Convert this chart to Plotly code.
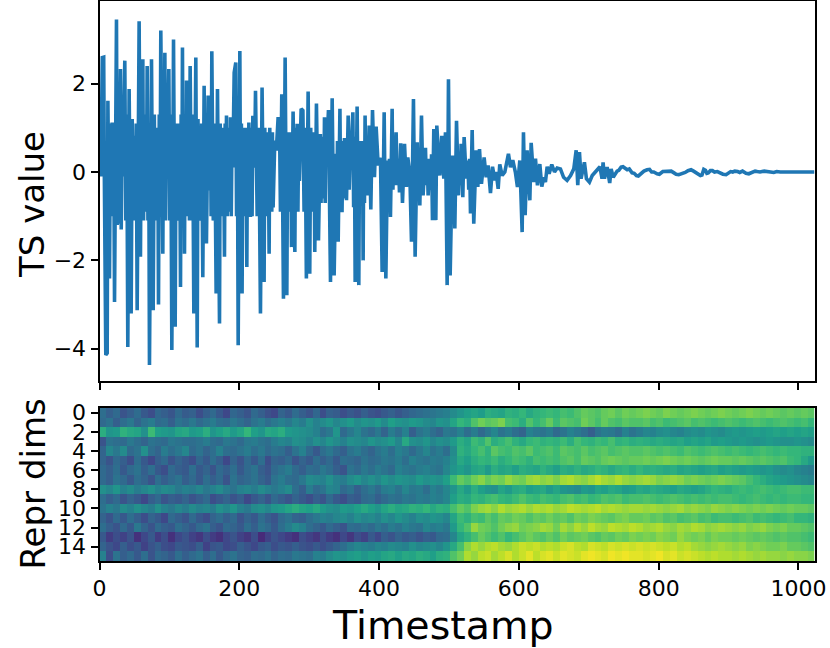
import plotly.graph_objects as go

# Time series, read peak by peak from the picture
peak_timestamps = [0,2,4,6,7,9,11,12,14.3,18.1,21.5,24.3,27.7,30,33.4,36.2,40.5,42.4,45.3,50,53.9,56.7,58.6,62,65,68.2,71.5,74.4,76.8,81.5,84.4,87.7,90.6,93.5,96.8,99.2,103.5,105.9,108.3,112,115.9,118.7,121.6,124.5,126.8,129.7,135,137.8,139.8,143,147.8,149.7,153,155.4,157.8,160.7,166.9,168.8,171.7,174.6,178.8,181.7,184.6,187.4,190.8,192.7,195,198.4,200.8,204,207.9,210.8,213.7,216,219.4,221.8,223.2,230.3,232.6,235.5,238.4,242.7,245.5,248.4,250.8,253,255.6,258,260.8,263.2,265.6,268,271.8,274.7,277,279.5,282.8,286,288.5,291,296,298.5,300.8,305,308,310.4,313.3,316,319,321.9,324.8,327.6,330.5,332.9,335.7,338.6,341.5,344,347,350.5,353.4,355.8,360,362.5,365.8,368.6,371,374.4,377.2,380,383.4,385.8,388.2,390.6,393.4,395.8,398.7,402,404.4,407.3,409.7,412,416.3,418.7,422,424.4,429.2,431,433.5,436.4,439.2,441.1,444,446.4,449.2,451.6,454.5,458.3,460.7,463,466.4,470.2,472.6,476.4,478.3,481.2,482.6,486.9,489.8,492.6,495,497.4,499.3,501.7,505,508.4,510.8,513.6,517.4,519.8,521.7,524.6,527,530.8,533.2,535.5,538.9,541.3,543.7,546.5,550.3,553.2,556,559.4,562.3,565.6,567.5,570.4,572.7,576.1,579.9,585.1,588,591.3,595,598,601.4,604.7,606.6,609,611.8,615.7,617.6,621.4,623.8,626.6,630,632.8,635.7,638,640.5,643.3,647.1,651,654.8,659.5,664,669,674,678.6,682,684.3,686.7,689,693.8,696.7,701,705,710.5,716,719,720.5,722.5,726.3,730,732,735,740.6,746.3,755,762,768.2,775,783.5,790,797.8,806,814.5,822,828.8,838,846.4,853,859.8,864.6,869,874,884,896.5,903,913,920,929,941,951,964.7,974,993,1012,1023]
peak_values = [0.49,-0.1,2.59,2.6,-0.2,-4.14,-4.1,1.61,-2.41,1.12,-2.94,3.45,-1.17,2.33,-0.1,2.52,-3.96,1.88,-3.2,0.82,-3.13,3.41,-1.92,2.55,-0.27,2.4,-4.37,2.55,-3.13,0.9,-3.0,3.2,-1.85,2.7,-0.08,2.33,-4.03,3.0,-3.5,0.37,-2.6,2.82,-1.85,2.07,-0.27,2.4,-3.2,2.59,-3.97,0.64,-2.38,1.95,-1.62,1.73,-0.42,2.73,-2.75,1.88,-3.43,0.41,-1.92,1.28,-0.76,1.24,0.1,2.25,2.48,-3.92,2.74,-2.75,0.07,-2.15,1.12,-1.02,1.27,0.1,1.84,-3.2,1.91,-2.49,0.18,-1.85,0.64,-0.8,0.71,0.49,1.24,0.45,1.76,-2.87,2.59,-2.79,0.3,-1.7,1.37,-1.81,1.09,-0.2,1.43,1.39,-2.41,1.82,-2.3,0.49,-1.81,1.55,-1.55,0.86,0.0,1.24,0.37,1.4,-2.49,1.67,-2.34,0.41,-1.58,1.43,-0.91,0.77,-0.64,1.28,0.49,1.35,-2.49,1.48,-2.56,0.47,-2.0,1.28,-0.53,1.05,-0.85,1.4,-0.12,1.03,0.15,0.32,-2.26,1.35,-2.41,0.26,-1.02,1.43,-0.3,0.9,-0.46,0.65,-0.7,0.64,-0.34,0.33,-0.04,-1.58,1.65,-1.92,0.67,-0.76,1.28,-0.53,0.55,-0.53,0.3,-1.09,0.97,-1.09,1.05,-0.08,0.82,-0.15,0.9,-2.56,2.1,-2.34,0.37,-1.28,1.16,-0.53,0.64,-0.57,0.79,-0.15,0.26,-0.94,0.95,-1.17,0.49,-0.34,0.52,-0.27,0.33,-0.12,0.15,-0.48,0.12,-0.19,0.0,-0.38,0.17,-0.08,0.0,0.41,0.11,0.27,0.0,-0.34,0.26,-1.36,0.9,-0.98,0.49,-0.64,0.66,-0.23,0.3,-0.3,0.18,-0.33,-0.12,-0.23,0.12,-0.04,0.17,0.0,0.09,0.07,-0.12,-0.19,-0.08,0.07,0.49,-0.3,0.45,-0.15,0.22,-0.15,-0.23,-0.08,0.03,0.12,-0.15,0.22,-0.15,0.11,-0.25,0.07,-0.12,0.02,0.11,0.05,-0.02,-0.08,-0.02,0.05,0.0,-0.04,0.01,0.03,-0.02,-0.06,-0.01,0.05,-0.01,-0.08,0.06,-0.03,0.03,0.01,-0.06,0.01,0.01,0.02,-0.04,0.01,0.02,-0.01,0.0,0.0,0.0,0.0]

# Smaller swings between those peaks: the solid band around zero, and the ripple in the flat tail
swing_timestamps = [15.6,16.8,19.2,20.3,25.4,26.6,31.1,32.2,37.6,39,46.8,48.4,51.3,52.6,59.7,60.8,63,64,66,67.1,69.3,70.4,78.4,79.9,82.5,83.4,85.5,86.6,91.6,92.5,94.6,95.7,100.6,102,109.5,110.8,113.3,114.6,116.8,117.8,119.7,120.6,122.6,123.5,127.8,128.7,131.5,133.2,140.9,142,144.6,146.2,150.8,151.9,158.8,159.7,162.8,164.8,172.7,173.6,176,177.4,179.8,180.7,182.7,183.6,185.5,186.5,188.5,189.7,196.1,197.3,201.9,203,205.3,206.6,208.9,209.8,211.8,212.7,217.1,218.3,225.6,228,236.5,237.4,239.8,241.3,243.6,244.6,246.5,247.4,258.9,259.9,269.3,270.5,272.8,273.7,280.6,281.7,283.9,285,292.7,294.3,302.2,303.6,306,307,317,318,320,320.9,322.9,323.8,339.6,340.5,345,346,348.2,349.3,351.5,352.4,357.2,358.6,363.6,364.7,372.1,373.2,375.3,376.3,378.1,379.1,381.1,382.3,413.4,414.9,419.8,420.9,426,427.6,455.8,457,467.7,468.9,473.9,475.1,506.1,507.3,514.9,516.1,528.3,529.5,743,749,758,765,771,779,787,793,801,810,818,825,833,842,850,856,862,867,871,877,880,888,892,899,906,909,916,925,934,938,945,955,960,969,980,986,999,1005,1017]
swing_values = [1.1,-1.0,-1.0,1.0,-1.2,1.3,-1.3,1.1,-1.1,1.3,1.2,-1.1,-1.0,1.1,1.3,-1.0,-1.1,1.1,1.3,-0.9,-1.1,1.1,1.3,-1.1,-1.1,1.0,1.3,-1.0,1.2,-1.1,-1.1,1.3,-1.1,1.3,1.1,-1.0,-1.1,1.1,1.3,-1.0,-1.1,1.0,1.2,-1.0,1.3,-1.1,-1.1,1.3,1.2,-1.0,-1.1,1.1,-1.1,1.1,1.1,-1.0,-1.1,1.1,1.1,-1.0,-1.0,1.0,1.1,-1.0,-1.0,1.0,1.0,-0.9,-1.0,1.0,-1.0,1.1,-1.1,1.1,1.0,-1.0,-1.0,1.0,1.0,-1.0,1.0,-1.0,-1.0,1.0,1.0,-1.0,-0.9,0.9,1.0,-0.9,-0.9,0.9,-0.9,1.0,0.9,-0.9,-0.9,0.9,1.0,-0.9,-0.9,0.9,-0.9,1.0,1.0,-0.9,-0.9,0.9,-0.7,0.7,0.8,-0.6,-0.7,0.8,-0.7,0.7,-0.6,0.6,0.7,-0.6,-0.6,0.6,-0.4,0.4,-0.8,0.8,0.7,-0.7,-0.7,0.7,0.7,-0.7,-0.5,0.5,-0.4,0.3,-0.4,0.3,-0.3,0.3,-0.4,0.4,-0.3,0.3,-0.4,0.4,-0.4,0.3,0.3,-0.3,-0.4,0.3,0.04,0.12,0.07,-0.03,-0.09,0.02,0.06,0.0,-0.05,0.02,0.02,-0.05,-0.04,0.03,0.02,-0.02,-0.07,0.04,-0.02,0.03,0.0,-0.02,-0.05,-0.03,0.0,0.02,-0.01,-0.03,0.0,0.02,0.0,0.02,0.0,0.01,0.0,0.01,0.0,0.01,0.0]

ts_points = sorted(zip(peak_timestamps + swing_timestamps, peak_values + swing_values))
timestamps = [p[0] for p in ts_points]
ts_values = [p[1] for p in ts_points]

# Representation heatmap: one list per dimension, read in 104 columns along the time axis
heat_timestamps = [9.84 * c + 4.92 for c in range(104)]
dim_labels = list(range(16))
r0 = [36,30,34,26,30,35,28,24,33,30,27,34,29, 31,24,30,34,28,22,33,30,26,34,30,25,22, 32,28,35,30,26,33,24,31,29,24,28,25,30, 26,24,28,31,27,30,33,35,37,39,41,43,48, 52,56,58,55,62,60,58,64,62,66,60,64,66, 68,66,70,68,72,76,74,72,76,78,74,78,76, 78,80,78,76,80,78,76,78,80,78,76,78,80, 78,76,78,80,78,76,78,76,74,76,74,76,74]
r1 = [34,38,30,36,40,32,38,42,34,36,30,38,35, 40,34,38,42,36,34,40,36,32,38,42,36,40, 44,40,46,42,50,44,48,52,46,50,54,48,52, 50,54,48,56,52,50,54,52,48,46,52,50,58, 66,62,72,78,74,76,80,70,68,62,72,66,70, 76,68,74,72,70,78,74,70,76,72,70,74,72, 72,74,70,72,68,70,72,74,70,72,70,68,70, 72,70,68,70,72,70,68,70,72,70,68,70,66]
r2 = [62,52,54,64,60,58,50,68,56,54,52,58,60, 54,56,62,52,56,60,54,58,66,56,52,60,58, 62,54,52,50,48,44,36,40,52,34,40,46,38, 34,40,32,42,36,44,30,38,42,36,32,40,38, 44,36,42,34,40,46,38,42,36,32,44,40,38, 42,34,38,44,40,36,30,38,42,40,36,44,38, 42,46,44,48,50,46,44,48,50,48,52,50,48, 52,54,52,54,56,54,56,58,56,58,56,58,56]
r3 = [26,38,36,34,40,36,32,38,36,34,40,38,36, 36,38,42,36,34,40,38,34,40,42,38,36,42, 46,44,50,48,44,50,46,52,48,44,50,48,46, 52,48,50,54,46,60,50,48,52,46,50,48,54, 62,58,68,64,72,62,66,70,64,60,66,68,64, 66,64,68,62,70,66,64,68,66,70,64,66,62, 64,62,60,62,60,58,60,56,58,56,58,54,56, 54,52,54,52,50,52,54,52,50,50,52,50,48]
r4 = [32,46,40,48,34,38,50,36,32,42,36,40,46, 34,38,32,36,44,36,34,38,42,36,40,34,38, 36,30,38,44,34,28,36,40,34,30,38,42,36, 32,38,42,36,44,40,34,40,46,38,42,36,48, 64,60,66,70,64,74,70,68,72,70,74,68,70, 72,68,74,72,70,74,70,72,74,70,72,74,72, 72,74,72,70,72,70,68,72,70,68,70,72,70, 68,70,68,66,68,70,68,66,68,66,66,64,64]
r5 = [32,26,34,30,24,36,28,22,30,34,26,32,28, 24,33,28,36,30,22,32,26,34,28,36,24,32, 30,34,26,32,28,36,30,34,28,36,34,32,38, 34,36,40,38,42,36,44,40,38,42,40,44,50, 60,56,62,66,64,68,62,66,70,68,64,70,68, 70,68,72,74,70,76,74,72,76,78,76,74,76, 76,78,76,78,80,78,76,78,76,74,76,78,76, 76,74,76,74,72,74,72,70,72,68,66,60,54]
r6 = [34,30,36,28,34,38,30,36,28,24,34,30,28, 36,28,32,26,34,30,36,28,34,38,30,26,34, 38,42,34,30,36,34,40,36,30,26,38,34,40, 36,42,38,34,44,40,38,42,44,40,38,46,52, 56,52,58,60,54,62,58,60,56,62,60,58,64, 60,56,62,60,64,60,62,66,64,60,64,66,62, 66,62,64,62,60,62,58,60,58,56,58,60,56, 58,56,54,56,54,52,54,50,48,50,46,44,42]
r7 = [34,30,38,34,28,36,32,26,36,30,34,38,30, 34,28,36,30,34,26,38,32,34,38,32,28,38, 42,36,34,40,48,46,44,50,44,42,48,52,46, 50,46,52,48,52,50,48,54,50,52,50,56,68, 76,72,78,82,76,80,78,84,80,78,84,86,82, 84,80,86,88,84,82,86,90,86,84,88,84,82, 84,86,84,80,82,84,82,78,80,78,76,78,80, 78,76,74,70,66,62,58,56,54,52,50,48,46]
r8 = [50,46,52,44,48,42,46,50,44,48,46,40,44, 42,46,40,44,48,42,38,44,46,42,48,44,40, 44,48,36,30,42,34,38,46,44,34,38,30,36, 40,34,42,44,38,46,40,42,36,44,40,46,52, 60,54,62,56,52,50,58,54,60,62,56,58,60, 54,58,52,50,48,54,52,58,56,60,58,54,56, 60,58,62,60,58,56,60,58,56,58,62,66,64, 62,66,68,66,68,70,68,66,68,70,70,68,68]
r9 = [36,30,34,26,32,28,22,30,34,26,30,28,32, 26,30,34,24,28,32,26,30,22,28,32,26,34, 30,26,32,28,24,30,26,34,28,24,30,28,34, 36,30,34,38,36,40,38,42,40,44,42,46,56, 62,60,66,64,68,70,66,64,68,72,68,66,70, 68,66,70,72,68,70,66,68,72,70,72,68,70, 70,72,70,68,70,72,70,68,70,68,70,68,70, 70,68,66,68,70,68,66,68,66,68,68,66,66]
r10 = [38,44,40,48,44,50,46,42,50,44,40,46,42, 48,44,46,42,50,46,52,44,40,48,50,46,52, 54,58,62,58,56,60,54,50,48,54,52,56,60, 56,52,58,62,58,60,64,62,66,60,64,62,70, 76,72,80,84,86,82,88,84,86,88,84,88,86, 88,84,86,90,88,86,88,90,86,88,86,84,86, 86,84,86,84,82,84,86,82,84,82,80,84,82, 80,82,80,78,80,78,80,78,76,78,76,76,74]
r11 = [32,26,34,28,36,30,24,32,28,22,34,30,26, 34,28,24,32,36,30,34,26,32,28,36,30,26, 34,38,32,30,36,40,44,42,46,48,44,50,46, 48,44,50,46,52,48,44,50,48,52,50,46,58, 68,64,70,68,74,70,76,74,78,76,72,76,74, 78,74,76,72,78,76,80,78,76,74,78,80,76, 76,78,74,76,72,74,70,72,74,70,72,68,70, 70,68,70,72,68,70,68,66,68,70,66,66,64]
r12 = [36,30,26,34,28,40,32,26,34,30,28,36,32, 28,34,38,30,26,34,32,28,36,30,38,34,28, 36,42,48,44,36,32,28,34,30,26,36,34,38, 34,40,36,42,38,44,40,38,46,42,44,40,54, 66,72,84,78,76,72,78,82,84,78,80,82,86, 84,78,86,82,88,84,90,86,84,90,88,86,90, 88,84,86,88,84,82,86,84,88,86,82,84,86, 84,82,84,80,82,84,80,78,80,76,76,74,72]
r13 = [28,18,24,20,26,14,22,28,18,24,14,22,26, 20,16,24,18,14,22,26,20,16,24,12,20,26, 22,18,14,24,20,16,24,18,14,22,16,24,20, 28,22,30,26,32,28,30,26,30,28,34,36,46, 58,64,70,76,72,68,72,66,70,74,78,74,72, 76,72,78,74,76,78,74,72,76,74,78,76,80, 78,80,78,82,80,78,84,80,78,80,76,80,78, 78,76,78,76,74,76,74,72,74,72,72,70,68]
r14 = [32,26,22,30,24,28,20,26,30,24,22,28,26, 24,30,20,26,28,22,24,30,26,22,28,30,24, 28,26,30,26,24,28,24,28,32,36,42,46,44, 42,46,44,48,46,44,50,46,48,50,46,52,60, 70,82,88,84,88,90,86,84,88,92,90,92,88, 90,88,92,94,90,88,94,92,90,94,92,94,92, 94,92,94,92,90,92,88,90,86,84,82,84,86, 84,82,84,80,82,80,78,78,80,76,76,74,72]
r15 = [44,24,38,30,34,28,36,26,34,32,28,36,30, 34,38,30,36,28,34,38,32,30,36,34,38,32, 36,34,40,38,36,44,42,48,52,50,54,56,52, 56,54,58,60,56,60,58,62,60,56,62,64,72, 78,88,84,90,92,86,90,94,88,92,96,90,94, 96,92,96,94,92,96,98,96,94,98,96,98,96, 96,94,96,98,94,96,92,94,92,90,88,90,88, 88,86,88,86,84,86,84,84,82,84,82,82,80]
repr_matrix = [r0,r1,r2,r3,r4,r5,r6,r7,r8,r9,r10,r11,r12,r13,r14,r15]

x_ticks = [0, 200, 400, 600, 800, 1000]
ts_ticks = [-4, -2, 0, 2]
dim_ticks = [0, 2, 4, 6, 8, 10, 12, 14]
tick_labels_ts = ["\u22124", "\u22122", "0", "2"]

W, H = 830, 648
FONT = "DejaVu Sans"
axis_style = dict(showgrid=False, zeroline=False, showline=True, linecolor="black", linewidth=2,
                  mirror=True, ticks="outside", ticklen=7, tickwidth=1.6, tickcolor="black",
                  tickfont=dict(family=FONT, size=22, color="black"), automargin=False)

fig = go.Figure()
fig.add_trace(go.Scatter(x=timestamps, y=ts_values, mode="lines",
                         line=dict(color="#1f77b4", width=3.6), xaxis="x", yaxis="y", showlegend=False))
fig.add_trace(go.Heatmap(x=heat_timestamps, y=dim_labels, z=repr_matrix, colorscale="Viridis",
                         zmin=0, zmax=100, showscale=False, xaxis="x2", yaxis="y2"))

fig.update_layout(
    width=W, height=H, autosize=False, margin=dict(l=0, r=0, t=0, b=0),
    paper_bgcolor="white", plot_bgcolor="white", showlegend=False,
    font=dict(family=FONT, color="black"),
    xaxis=dict(axis_style, domain=[99.5/W, 814.5/W], range=[0, 1023], tickvals=x_ticks,
               showticklabels=False, anchor="y"),
    yaxis=dict(axis_style, domain=[1-381/H, 1-1/H], range=[-4.73, 3.87], tickvals=ts_ticks,
               ticktext=tick_labels_ts, anchor="x"),
    xaxis2=dict(axis_style, domain=[99.5/W, 814.5/W], range=[0, 1023], tickvals=x_ticks, anchor="y2"),
    yaxis2=dict(axis_style, domain=[1-561/H, 1-408/H], range=[15.5, -0.5], tickvals=dim_ticks, anchor="x2"),
    annotations=[
        dict(text="TS value", x=32/W, y=1-205/H, xref="paper", yref="paper", textangle=-90,
             xanchor="center", yanchor="middle", showarrow=False, font=dict(family=FONT, size=34, color="black")),
        dict(text="Repr dims", x=32/W, y=1-484.5/H, xref="paper", yref="paper", textangle=-90,
             xanchor="center", yanchor="middle", showarrow=False, font=dict(family=FONT, size=34, color="black")),
        dict(text="Timestamp", x=443/W, y=1-625/H, xref="paper", yref="paper",
             xanchor="center", yanchor="middle", showarrow=False, font=dict(family=FONT, size=39.5, color="black")),
    ],
)
fig.write_html("out.html", config={"displayModeBar": False},
               post_script="document.body.style.margin='0';document.documentElement.style.overflow='hidden';")
